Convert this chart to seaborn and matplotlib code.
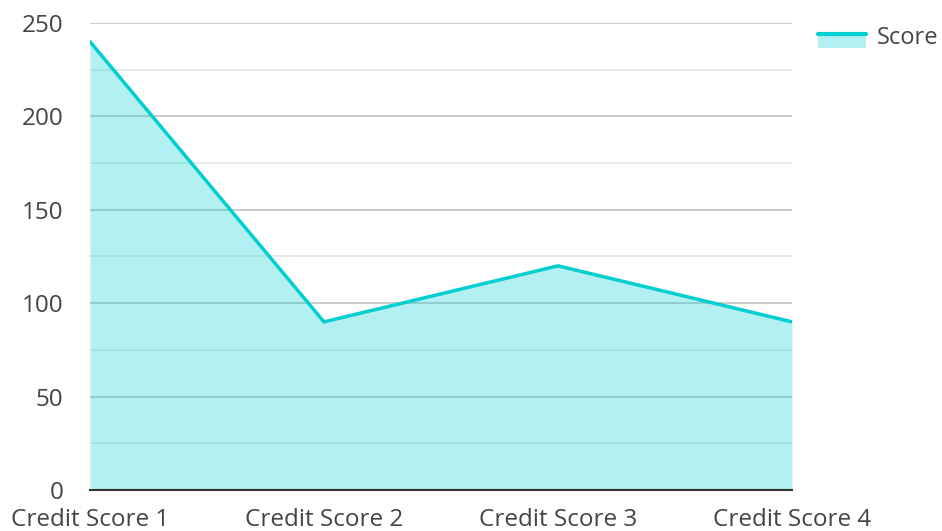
import pandas as pd
import seaborn as sns
import matplotlib.pyplot as plt
from matplotlib.patches import Rectangle
from matplotlib.lines import Line2D
from matplotlib.legend_handler import HandlerBase
from matplotlib.ticker import MultipleLocator

categories = ["Credit Score 1", "Credit Score 2", "Credit Score 3", "Credit Score 4"]
scores = [240, 90, 120, 90]

line_color = "#00CED1"


# legend handle: fill patch with line along its top
class AreaHandler(HandlerBase):
    def create_artists(self, legend, orig_handle, xdescent, ydescent, width, height, fontsize, trans):
        top = -ydescent + height * 0.6
        rect = Rectangle((-xdescent, top - 10), width, 10, facecolor=line_color,
                         alpha=0.3, edgecolor="none", transform=trans)
        ln = Line2D([-xdescent, -xdescent + width], [top, top],
                    color=line_color, lw=3, transform=trans)
        return [rect, ln]


sns.set_style("white")
plt.rcParams['font.family'] = ['Open Sans', 'DejaVu Sans']

df = pd.DataFrame({"pos": range(len(categories)), "Score": scores})

fig = plt.figure(figsize=(9.42, 5.31), dpi=100)
ax = fig.add_axes([0.0955, 0.0772, 0.7453, 0.8795])

ax.fill_between(df["pos"], df["Score"], 0, color=line_color, alpha=0.3, lw=0, zorder=2)
sns.lineplot(data=df, x="pos", y="Score", color=line_color, lw=2.5, ax=ax, zorder=3, legend=False)

ax.set_xlim(0, len(categories) - 1)
ax.set_ylim(0, 250)
ax.yaxis.set_major_locator(MultipleLocator(50))
ax.yaxis.set_minor_locator(MultipleLocator(25))
ax.set_xticks(range(len(categories)))
ax.set_xticklabels(categories)
ax.grid(which="major", axis="y", color="#c4c4c4", lw=1.2, zorder=1)
ax.grid(which="minor", axis="y", color="#e6e6e6", lw=1.2, zorder=1)
ax.set_axisbelow(True)

for s in ["top", "right", "left"]:
    ax.spines[s].set_visible(False)
ax.spines["bottom"].set_color("#333333")
ax.spines["bottom"].set_linewidth(1.5)
ax.spines["bottom"].set_zorder(4)

ax.tick_params(axis="both", which="both", length=0, labelsize=17.5, colors="#444444")
ax.tick_params(axis="y", pad=19)
ax.tick_params(axis="x", pad=13)
ax.set_xlabel("")
ax.set_ylabel("")

ax.legend([object()], ["Score"], handler_map={object: AreaHandler()},
          loc="upper left", bbox_to_anchor=(818 / 942, (531 - 26) / 531), bbox_transform=fig.transFigure,
          frameon=False, fontsize=17, handlelength=2.05, handletextpad=0.45,
          borderpad=0, borderaxespad=0, labelcolor="#444444")

fig.savefig("out.png", dpi=100)
